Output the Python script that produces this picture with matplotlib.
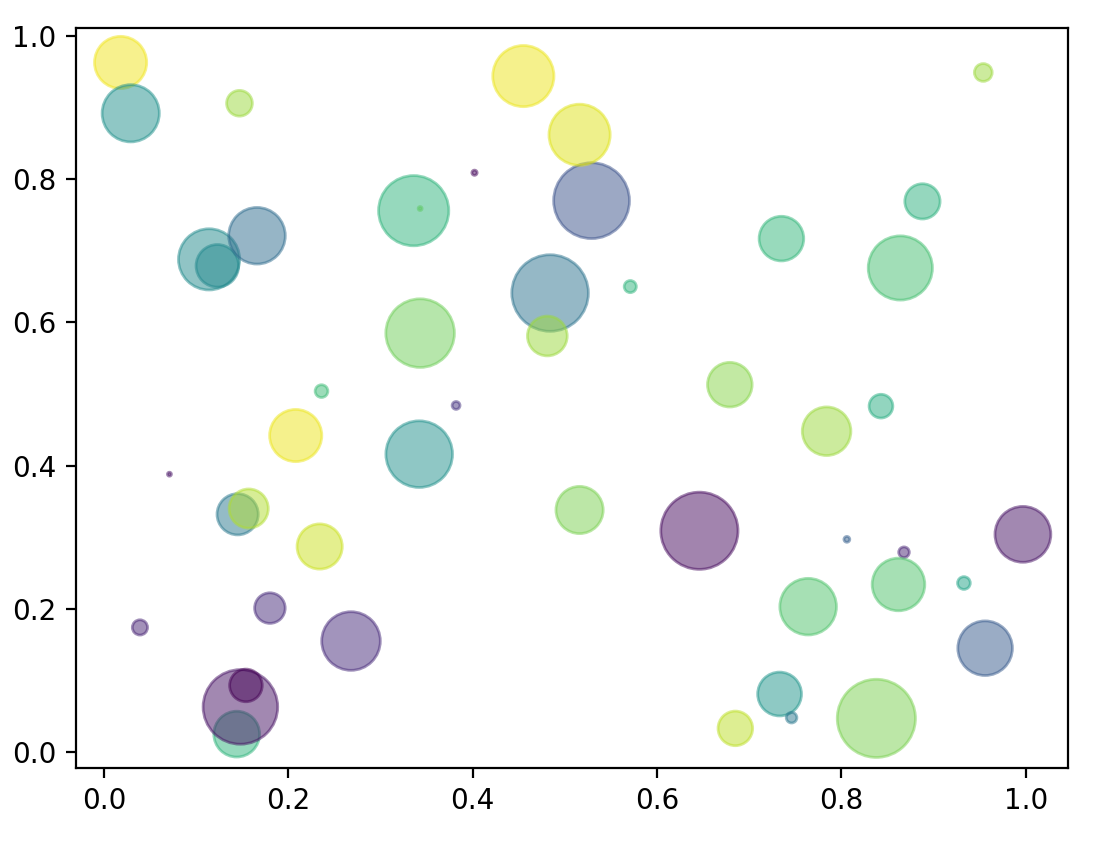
import matplotlib
matplotlib.use("Agg")
import matplotlib.pyplot as plt

# bubble positions, sizes (points^2) and colour values
x_vals = [0.018, 0.029, 0.147, 0.336, 0.114, 0.123, 0.166, 0.455, 0.529, 0.516,
          0.402, 0.735, 0.484, 0.571, 0.954, 0.888, 0.864, 0.343, 0.236, 0.208,
          0.342, 0.071, 0.145, 0.157, 0.234, 0.481, 0.382, 0.679, 0.516, 0.646,
          0.784, 0.843, 0.997, 0.806, 0.868, 0.862, 0.933, 0.764, 0.956, 0.733,
          0.746, 0.838, 0.685, 0.039, 0.180, 0.268, 0.144, 0.148, 0.154, 0.343]
y_vals = [0.963, 0.892, 0.906, 0.756, 0.688, 0.679, 0.721, 0.944, 0.770, 0.862,
          0.809, 0.717, 0.641, 0.650, 0.949, 0.769, 0.676, 0.585, 0.504, 0.442,
          0.416, 0.388, 0.332, 0.340, 0.287, 0.581, 0.484, 0.513, 0.338, 0.309,
          0.448, 0.483, 0.304, 0.297, 0.279, 0.234, 0.236, 0.203, 0.145, 0.081,
          0.048, 0.047, 0.033, 0.174, 0.201, 0.155, 0.025, 0.063, 0.093, 0.759]
sizes = [353, 424, 86, 639, 485, 235, 415, 485, 745, 485,
         3.5, 258, 760, 19, 41, 161, 534, 610, 21, 353,
         575, 2, 220, 199, 265, 205, 8, 258, 289, 772,
         306, 73, 404, 4.4, 14.6, 359, 21, 415, 386, 249,
         14.6, 792, 155, 30, 121, 445, 272, 721, 138, 2]
colors = [0.98, 0.50, 0.85, 0.65, 0.48, 0.47, 0.35, 0.97, 0.25, 0.95,
          0.02, 0.66, 0.38, 0.65, 0.85, 0.64, 0.70, 0.78, 0.68, 0.97,
          0.50, 0.05, 0.40, 0.88, 0.92, 0.85, 0.15, 0.82, 0.80, 0.03,
          0.85, 0.62, 0.05, 0.30, 0.10, 0.72, 0.58, 0.72, 0.28, 0.52,
          0.40, 0.80, 0.90, 0.10, 0.12, 0.12, 0.65, 0.05, 0.00, 0.75]

fig = plt.figure(figsize=(5.51, 4.24), dpi=200)
ax = fig.add_axes([75.7 / 1102, 1 - 767.7 / 848, 992.0 / 1102, 739.4 / 848])

ax.scatter(x_vals, y_vals, s=sizes, c=colors, cmap='viridis', vmin=0, vmax=1,
           alpha=0.5)

ax.set_xlim(-0.0307, 1.0456)
ax.set_ylim(-0.0219, 1.0107)
ax.set_xticks([0.0, 0.2, 0.4, 0.6, 0.8, 1.0])
ax.set_yticks([0.0, 0.2, 0.4, 0.6, 0.8, 1.0])

fig.savefig('out.png', dpi=200)
